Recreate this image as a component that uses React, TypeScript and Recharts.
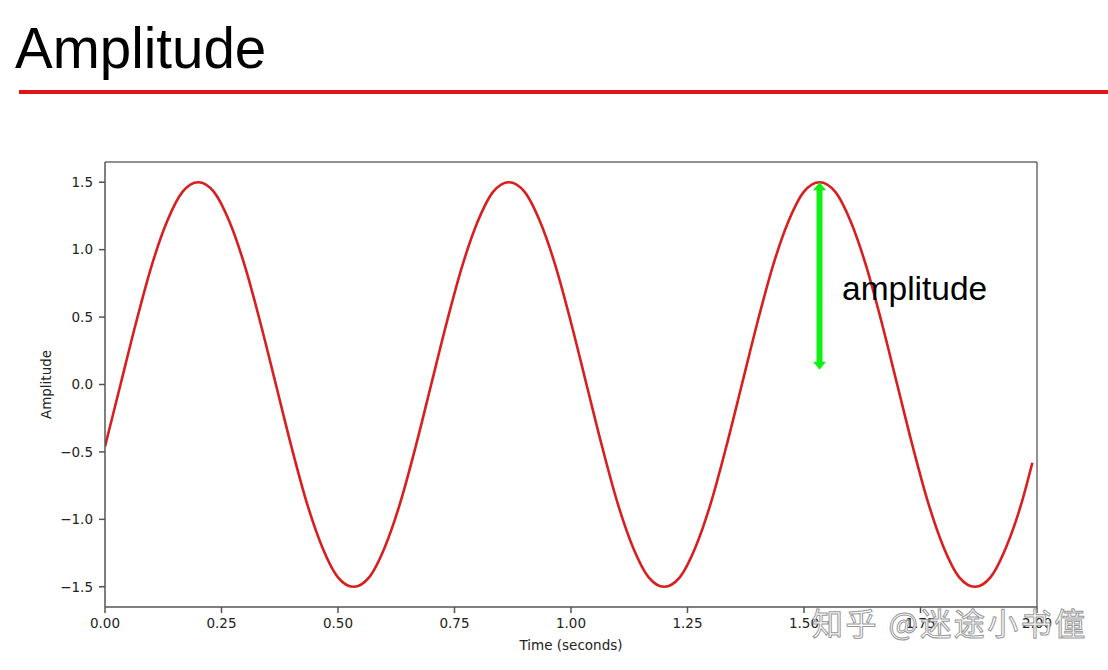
import React from "react";
import { LineChart, Line, XAxis, YAxis, ReferenceLine } from "recharts";

const timeSeconds = [
  0, 0.0333, 0.0667, 0.1, 0.1333, 0.1667, 0.2, 0.2333, 0.2667, 0.3,
  0.3333, 0.3667, 0.4, 0.4333, 0.4667, 0.5, 0.5333, 0.5667, 0.6, 0.6333,
  0.6667, 0.7, 0.7333, 0.7667, 0.8, 0.8333, 0.8667, 0.9, 0.9333, 0.9667,
  1.0, 1.0333, 1.0667, 1.1, 1.1333, 1.1667, 1.2, 1.2333, 1.2667, 1.3,
  1.3333, 1.3667, 1.4, 1.4333, 1.4667, 1.5, 1.5333, 1.5667, 1.6, 1.6333,
  1.6667, 1.7, 1.7333, 1.7667, 1.8, 1.8333, 1.8667, 1.9, 1.9333, 1.9667,
  1.99,
];

const amplitudeValues = [
  -0.46, 0, 0.46, 0.88, 1.21, 1.43, 1.5, 1.43, 1.21, 0.88,
  0.46, 0, -0.46, -0.88, -1.21, -1.43, -1.5, -1.43, -1.21, -0.88,
  -0.46, 0, 0.46, 0.88, 1.21, 1.43, 1.5, 1.43, 1.21, 0.88,
  0.46, 0, -0.46, -0.88, -1.21, -1.43, -1.5, -1.43, -1.21, -0.88,
  -0.46, 0, 0.46, 0.88, 1.21, 1.43, 1.5, 1.43, 1.21, 0.88,
  0.46, 0, -0.46, -0.88, -1.21, -1.43, -1.5, -1.43, -1.21, -0.88,
  -0.58,
];

const xTicks = [0, 0.25, 0.5, 0.75, 1.0, 1.25, 1.5, 1.75, 2.0];
const yTicks = [-1.5, -1.0, -0.5, 0.0, 0.5, 1.0, 1.5];

const arrowTime = 1.5333;
const arrowTop = 1.5;
const arrowBottom = 0.11;

const data = timeSeconds.map((t, i) => ({ t, y: amplitudeValues[i] }));

const tickFont = { fontFamily: "DejaVu Sans", fontSize: 13.5, fill: "#222" };

const fmtY = (v: number) => {
  const s = Math.abs(v).toFixed(1);
  return v < 0 ? "\u2212" + s : s;
};

const ArrowShape = (props: any) => {
  const { x1, y1, x2, y2 } = props;
  const x = x1;
  const top = Math.min(y1, y2);
  const bot = Math.max(y1, y2);
  const hw = 6.5;
  const hh = 8;
  const color = "#11ee11";
  return (
    <g>
      <line x1={x} y1={top + hh - 1} x2={x2} y2={bot - hh + 1} stroke={color} strokeWidth={6} />
      <polygon points={`${x},${top} ${x - hw},${top + hh} ${x + hw},${top + hh}`} fill={color} />
      <polygon points={`${x},${bot} ${x - hw},${bot - hh} ${x + hw},${bot - hh}`} fill={color} />
    </g>
  );
};

export default function App() {
  return (
    <div style={{ position: "absolute", left: 0, top: 0, width: 1108, height: 670, background: "#fff", overflow: "hidden" }}>
      <div
        style={{
          position: "absolute",
          left: 15,
          top: 14,
          fontFamily: "Liberation Sans, Arial, sans-serif",
          fontSize: 56.5,
          lineHeight: "70px",
          color: "#000",
        }}
      >
        Amplitude
      </div>
      <div style={{ position: "absolute", left: 19, top: 90, width: 1089, height: 3.5, background: "#e01515" }} />
      <div style={{ position: "absolute", left: 0, top: 0 }}>
        <LineChart width={1108} height={670} data={data} margin={{ top: 162, right: 71, bottom: 33, left: 0 }}>
          <XAxis
            dataKey="t"
            type="number"
            domain={[0, 2]}
            ticks={xTicks}
            tickFormatter={(v: number) => v.toFixed(2)}
            height={30}
            tick={tickFont}
            tickSize={6}
            tickMargin={5}
            stroke="#555"
            strokeWidth={1.5}
            allowDataOverflow
            label={{
              value: "Time (seconds)",
              position: "insideBottom",
              offset: -13,
              style: { fontFamily: "DejaVu Sans", fontSize: 13.5, fill: "#222" },
            }}
          />
          <YAxis
            type="number"
            domain={[-1.65, 1.65]}
            ticks={yTicks}
            tickFormatter={fmtY}
            width={105}
            tick={tickFont}
            tickSize={6}
            tickMargin={6}
            stroke="#555"
            strokeWidth={1.5}
            allowDataOverflow
            label={{
              content: (p: any) => {
                const vb = p.viewBox || { y: 162, height: 445 };
                const cx = 46;
                const cy = vb.y + vb.height / 2;
                return (
                  <text
                    x={cx}
                    y={cy}
                    transform={`rotate(-90, ${cx}, ${cy})`}
                    textAnchor="middle"
                    dominantBaseline="central"
                    style={{ fontFamily: "DejaVu Sans", fontSize: 13.5, fill: "#222" }}
                  >
                    Amplitude
                  </text>
                );
              },
            }}
          />
          <ReferenceLine y={1.65} stroke="#222" strokeWidth={1} />
          <ReferenceLine x={2} stroke="#222" strokeWidth={1} />
          <Line
            type="monotone"
            dataKey="y"
            stroke="#d81e1e"
            strokeWidth={2.6}
            dot={false}
            isAnimationActive={false}
          />
          <ReferenceLine
            segment={[
              { x: arrowTime, y: arrowTop },
              { x: arrowTime, y: arrowBottom },
            ]}
            shape={ArrowShape}
          />
        </LineChart>
      </div>
      <div
        style={{
          position: "absolute",
          left: 842,
          top: 269,
          fontFamily: "Liberation Sans, Arial, sans-serif",
          fontSize: 33.5,
          lineHeight: "40px",
          color: "#000",
        }}
      >
        amplitude
      </div>
      <div
        style={{
          position: "absolute",
          left: 812,
          top: 602,
          fontFamily: "Noto Sans CJK SC, sans-serif",
          fontSize: 31,
          letterSpacing: 2.5,
          lineHeight: "40px",
          color: "#fff",
          WebkitTextStroke: "1px #999",
          whiteSpace: "nowrap",
        }}
      >
        知乎 @迷途小书僮
      </div>
    </div>
  );
}
